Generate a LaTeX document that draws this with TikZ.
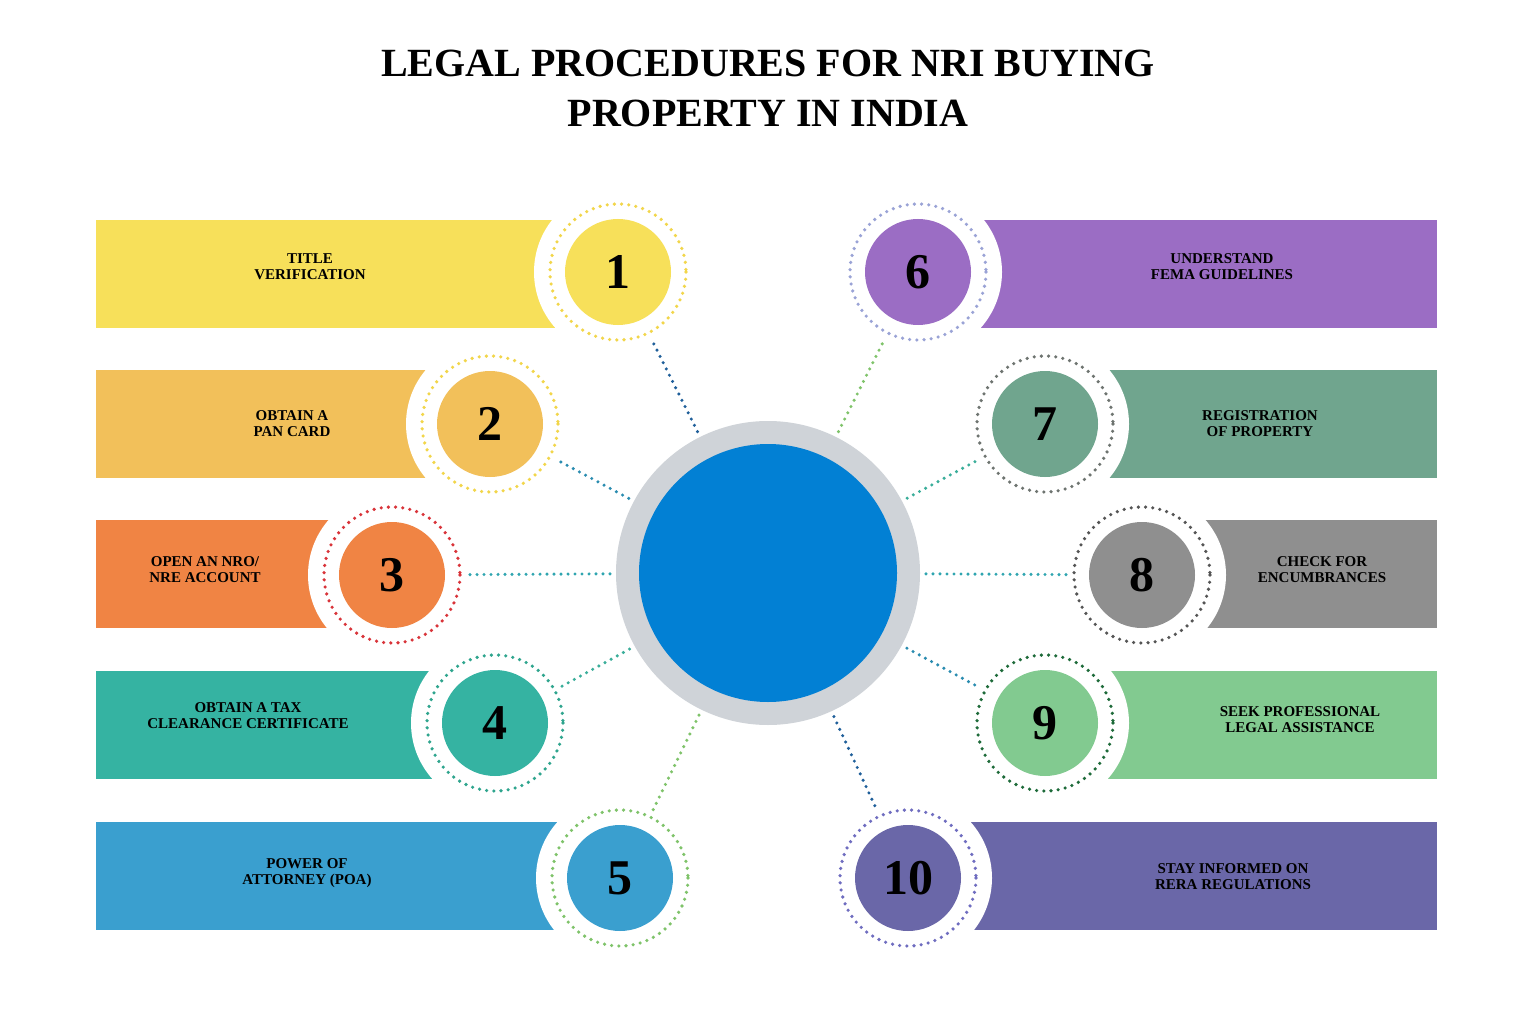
\documentclass[tikz,border=0pt]{standalone}
\usepackage{fontspec}
\setmainfont{Liberation Serif}
\usetikzlibrary{calc}
\begin{document}
\begin{tikzpicture}[x=1pt,y=-1pt,
  lbl/.style={font=\bfseries\fontsize{15}{16}\selectfont, align=center, text=black},
  num/.style={font=\bfseries\fontsize{50}{50}\selectfont, text=black},
  ring/.style={line width=3.6pt, dash pattern=on 0pt off 7.2pt, line cap=round},
  conn/.style={line width=3.4pt, dash pattern=on 0pt off 7pt, line cap=round}]
\useasboundingbox (0,0) rectangle (1536,1024);
\fill[white] (0,0) rectangle (1536,1024);
\node[font=\bfseries\fontsize{40}{50}\selectfont, align=center] (title) at (768,88) {LEGAL PROCEDURES FOR NRI BUYING\\PROPERTY IN INDIA};
\definecolor{c1}{HTML}{F7E05A}\definecolor{c2}{HTML}{F2C05A}\definecolor{c3}{HTML}{F08444}
\definecolor{c4}{HTML}{35B3A2}\definecolor{c5}{HTML}{3A9FCF}\definecolor{c6}{HTML}{9B6DC4}
\definecolor{c7}{HTML}{70A58E}\definecolor{c8}{HTML}{8F8F8F}\definecolor{c9}{HTML}{82CA90}
\definecolor{c10}{HTML}{6A67A8}
\definecolor{r1}{HTML}{F2D64A}\definecolor{r2}{HTML}{F2D64A}\definecolor{r3}{HTML}{D9343A}
\definecolor{r4}{HTML}{2FA58E}\definecolor{r5}{HTML}{7FC36A}\definecolor{r6}{HTML}{9AA3D6}
\definecolor{r7}{HTML}{6E7470}\definecolor{r8}{HTML}{555555}\definecolor{r9}{HTML}{1E6B3A}
\definecolor{r10}{HTML}{6F6DC0}
\definecolor{k1}{HTML}{1F5F9A}\definecolor{k2}{HTML}{2A8CB0}\definecolor{k3}{HTML}{2FA5B0}
\definecolor{k4}{HTML}{3AAE9A}\definecolor{k5}{HTML}{7FC36A}
\definecolor{hubgray}{HTML}{CFD3D8}\definecolor{hubblue}{HTML}{0280D4}
\coordinate (hub) at (768,573);
\fill[c1] (96,220) rectangle (620,328);
\fill[c2] (96,370) rectangle (490,478);
\fill[c3] (96,520) rectangle (392,628);
\fill[c4] (96,671) rectangle (495,779);
\fill[c5] (96,822) rectangle (620,930);
\fill[c6] (918,220) rectangle (1437,328);
\fill[c7] (1045,370) rectangle (1437,478);
\fill[c8] (1142,520) rectangle (1437,628);
\fill[c9] (1045,671) rectangle (1437,779);
\fill[c10] (908,822) rectangle (1437,930);
\foreach \i/\x/\y in {1/618/272,2/490/424,3/392/575,4/495/723,5/620/878,6/918/272,7/1045/424,8/1142/575,9/1045/723,10/908/878}{
  \coordinate (p\i) at (\x,\y);
  \fill[white] (p\i) circle (84);
  \draw[ring, draw=r\i] (p\i) circle (68);
  \fill[c\i] (p\i) circle (53);
}
\foreach \i in {1,...,10}{\node[num] (n\i) at (p\i) {\i};}
\foreach \i/\c in {1/k1,2/k2,3/k3,4/k4,5/k5,6/k5,7/k4,8/k3,9/k2,10/k1}{
  \draw[conn, draw=\c] ($(hub)!158pt!(p\i)$) -- ($(p\i)!76pt!(hub)$);
}
\fill[hubgray] (hub) circle (152);
\fill[hubblue] (hub) circle (129);
\node[lbl] (l1) at (310,267) {TITLE\\VERIFICATION};
\node[lbl] (l2) at (292,424) {OBTAIN A\\PAN CARD};
\node[lbl] (l3) at (205,570) {OPEN AN NRO/\\NRE ACCOUNT};
\node[lbl] (l4) at (248,716) {OBTAIN A TAX\\CLEARANCE CERTIFICATE};
\node[lbl] (l5) at (307,873) {POWER OF\\ATTORNEY (POA)};
\node[lbl] (l6) at (1222,267) {UNDERSTAND\\FEMA GUIDELINES};
\node[lbl] (l7) at (1260,424) {REGISTRATION\\OF PROPERTY};
\node[lbl] (l8) at (1322,570) {CHECK FOR\\ENCUMBRANCES};
\node[lbl] (l9) at (1300,720) {SEEK PROFESSIONAL\\LEGAL ASSISTANCE};
\node[lbl] (l10) at (1233,877) {STAY INFORMED ON\\RERA REGULATIONS};
\end{tikzpicture}
\end{document}
